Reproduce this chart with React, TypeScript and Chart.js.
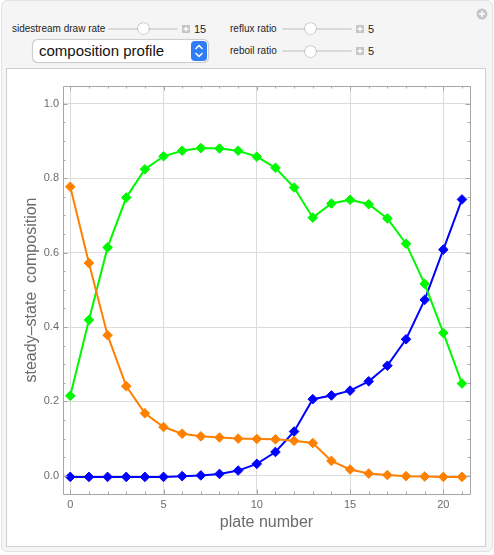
import React, { useEffect, useRef } from "react";
import { Chart, registerables } from "chart.js";

Chart.register(...registerables);

// ---- data ----
const plates = [0, 1, 2, 3, 4, 5, 6, 7, 8, 9, 10, 11, 12, 13, 14, 15, 16, 17, 18, 19, 20, 21];
const orangeSeries = [0.777, 0.572, 0.378, 0.241, 0.168, 0.131, 0.113, 0.106, 0.103, 0.100, 0.099, 0.098, 0.094, 0.088, 0.040, 0.017, 0.006, 0.002, -0.001, -0.002, -0.003, -0.003];
const greenSeries = [0.215, 0.419, 0.614, 0.748, 0.824, 0.859, 0.874, 0.881, 0.880, 0.874, 0.858, 0.828, 0.775, 0.694, 0.732, 0.742, 0.730, 0.692, 0.624, 0.516, 0.384, 0.248];
const blueSeries = [-0.003, -0.003, -0.003, -0.003, -0.003, -0.003, -0.001, 0.001, 0.005, 0.014, 0.032, 0.064, 0.119, 0.206, 0.216, 0.229, 0.254, 0.296, 0.367, 0.473, 0.608, 0.743];
const xTicks = [0, 5, 10, 15, 20];
const xTickLabels = ["0", "5", "10", "15", "20"];
const yTicks = [0, 0.2, 0.4, 0.6, 0.8, 1.0];
const yTickLabels = ["0.0", "0.2", "0.4", "0.6", "0.8", "1.0"];
const xMinorStep = 1;
const yMinorStep = 0.05;
const xTitle = "plate number";
const yTitle = "steady\u2013state  composition";

const FRAME = "#a6a6a6";
const GRID = "#dcdcdc";
const LABEL = "#6b6b6b";

const framePlugin = {
  id: "mmaFrame",
  afterDatasetsDraw(chart: any) {
    const { ctx, chartArea: a, scales } = chart;
    const xs = scales.x;
    const ys = scales.y;
    ctx.save();
    ctx.strokeStyle = FRAME;
    ctx.lineWidth = 1;
    ctx.beginPath();
    ctx.rect(Math.round(a.left) + 0.5, Math.round(a.top) + 0.5, Math.round(a.right - a.left), Math.round(a.bottom - a.top));
    ctx.stroke();
    const seg = (x1: number, y1: number, x2: number, y2: number) => {
      ctx.moveTo(x1, y1);
      ctx.lineTo(x2, y2);
    };
    ctx.beginPath();
    for (let v = Math.ceil(xs.min); v <= xs.max; v += xMinorStep) {
      const major = xTicks.includes(v);
      const len = major ? 4.5 : 2.5;
      const px = Math.round(xs.getPixelForValue(v)) + 0.5;
      seg(px, a.bottom, px, a.bottom - len);
      seg(px, a.top, px, a.top + len);
    }
    const start = Math.ceil(ys.min / yMinorStep);
    for (let k = start; k * yMinorStep <= ys.max + 1e-9; k++) {
      const v = Math.round(k * yMinorStep * 100) / 100;
      const major = yTicks.some((t) => Math.abs(t - v) < 1e-6);
      const len = major ? 4.5 : 2.5;
      const py = Math.round(ys.getPixelForValue(v)) + 0.5;
      seg(a.left, py, a.left + len, py);
      seg(a.right, py, a.right - len, py);
    }
    ctx.stroke();
    ctx.restore();
  },
};

function makeDataset(values: number[], color: string) {
  return {
    data: plates.map((p, i) => ({ x: p, y: values[i] })),
    borderColor: color,
    backgroundColor: color,
    pointBackgroundColor: color,
    pointBorderColor: color,
    borderWidth: 2,
    pointStyle: "rectRot",
    pointRadius: 4.8,
    pointBorderWidth: 1,
    tension: 0,
  };
}

function PlotChart() {
  const ref = useRef<HTMLCanvasElement | null>(null);
  useEffect(() => {
    if (!ref.current) return;
    const chart = new Chart(ref.current, {
      type: "line",
      data: {
        datasets: [
          makeDataset(orangeSeries, "rgb(255,128,0)"),
          makeDataset(greenSeries, "rgb(0,248,0)"),
          makeDataset(blueSeries, "rgb(0,0,255)"),
        ] as any,
      },
      options: {
        animation: false,
        responsive: false,
        devicePixelRatio: window.devicePixelRatio || 1,
        layout: { padding: { top: 17, right: 16, left: 0, bottom: 0 } },
        plugins: { legend: { display: false }, tooltip: { enabled: false } },
        scales: {
          x: {
            type: "linear",
            min: -0.39,
            max: 21.43,
            afterBuildTicks: (s: any) => {
              s.ticks = xTicks.map((v) => ({ value: v }));
            },
            afterFit: (s: any) => {
              s.height = 53;
            },
            ticks: {
              padding: 4,
              color: LABEL,
              font: { family: "Liberation Sans", size: 11 },
              maxRotation: 0,
              callback: (v: any) => {
                const i = xTicks.indexOf(Number(v));
                return i >= 0 ? xTickLabels[i] : "";
              },
            },
            grid: { color: GRID, drawTicks: false, lineWidth: 1 },
            border: { display: false },
            title: {
              display: true,
              text: xTitle,
              color: LABEL,
              font: { family: "Liberation Sans", size: 16 },
              padding: { top: 0, bottom: 15 },
            },
          },
          y: {
            type: "linear",
            min: -0.049,
            max: 1.048,
            afterBuildTicks: (s: any) => {
              s.ticks = yTicks.map((v) => ({ value: v }));
            },
            afterFit: (s: any) => {
              s.width = 56;
            },
            ticks: {
              padding: 4,
              color: LABEL,
              font: { family: "Liberation Sans", size: 11 },
              callback: (v: any) => {
                const i = yTicks.findIndex((t) => Math.abs(t - Number(v)) < 1e-6);
                return i >= 0 ? yTickLabels[i] : "";
              },
            },
            grid: { color: GRID, drawTicks: false, lineWidth: 1 },
            border: { display: false },
            title: {
              display: true,
              text: yTitle,
              color: LABEL,
              font: { family: "Liberation Sans", size: 16 },
              padding: { top: 15.4, bottom: 0 },
            },
          },
        },
      } as any,
      plugins: [framePlugin],
    });
    return () => chart.destroy();
  }, []);
  return (
    <canvas
      ref={ref}
      width={479}
      height={478}
      style={{ position: "absolute", left: 7, top: 69, width: 479, height: 478 }}
    />
  );
}

function Slider({ left, top, label, labelLeft, value, thumb }: any) {
  const text: React.CSSProperties = {
    position: "absolute",
    top: top - 7,
    fontFamily: "Liberation Sans, Arial, sans-serif",
    fontSize: 10,
    lineHeight: "14px",
    color: "#1e1e1e",
    whiteSpace: "nowrap",
  };
  return (
    <>
      <div style={{ ...text, left: labelLeft }}>{label}</div>
      <div style={{ position: "absolute", left, top: top - 1, width: 70, height: 2, background: "#dadada", borderRadius: 1 }} />
      <div
        style={{
          position: "absolute",
          left: thumb - 5.5,
          top: top - 5.5,
          width: 11,
          height: 11,
          borderRadius: "50%",
          background: "#ffffff",
          boxShadow: "0 0 1px 0.5px rgba(0,0,0,0.3)",
        }}
      />
      <svg style={{ position: "absolute", left: left + 74, top: top - 4 }} width={8} height={8}>
        <rect x={0} y={0} width={8} height={8} fill="#c4c4c4" rx={1} />
        <path d="M4 1.5 V6.5 M1.5 4 H6.5" stroke="#fff" strokeWidth={1.3} />
      </svg>
      <div style={{ ...text, left: left + 86, fontSize: 11 }}>{value}</div>
    </>
  );
}

export default function App() {
  useEffect(() => {
    document.body.style.margin = "0";
  }, []);
  return (
    <div style={{ position: "relative", width: 494, height: 555, background: "#fff", overflow: "hidden" }}>
      <div
        style={{
          position: "absolute",
          left: 1,
          top: 0,
          width: 490,
          height: 550,
          background: "#f5f5f5",
          border: "1px solid #e2e2e2",
          borderRadius: 6,
        }}
      />
      <svg style={{ position: "absolute", left: 476, top: 8 }} width={12} height={12}>
        <circle cx={6} cy={6} r={5.5} fill="#c6c6c6" />
        <path d="M6 3 V9 M3 6 H9" stroke="#fff" strokeWidth={1.5} />
      </svg>
      <Slider left={108} top={28.5} label="sidestream draw rate" labelLeft={12} value="15" thumb={143} />
      <Slider left={282} top={28.5} label="reflux ratio" labelLeft={230} value="5" thumb={310} />
      <Slider left={282} top={51} label="reboil ratio" labelLeft={230} value="5" thumb={310} />
      <div
        style={{
          position: "absolute",
          left: 33,
          top: 40,
          width: 175,
          height: 22,
          background: "#fff",
          borderRadius: 5,
          boxShadow: "0 0 1px 0.5px rgba(0,0,0,0.18)",
        }}
      >
        <div
          style={{
            position: "absolute",
            left: 6,
            top: 2,
            fontFamily: "Liberation Sans, Arial, sans-serif",
            fontSize: 15,
            lineHeight: "18px",
            color: "#111",
            whiteSpace: "nowrap",
          }}
        >
          composition profile
        </div>
        <svg style={{ position: "absolute", left: 158, top: 1 }} width={16} height={20}>
          <rect x={0} y={0} width={16} height={20} rx={4} fill="#2f7cf6" />
          <path d="M4.5 8 L8 4.5 L11.5 8 M4.5 12 L8 15.5 L11.5 12" stroke="#fff" strokeWidth={1.5} fill="none" />
        </svg>
      </div>
      <div
        style={{
          position: "absolute",
          left: 6,
          top: 68,
          width: 480,
          height: 479,
          background: "#fff",
          border: "1px solid #cfcfcf",
          boxSizing: "border-box",
        }}
      />
      <PlotChart />
    </div>
  );
}
